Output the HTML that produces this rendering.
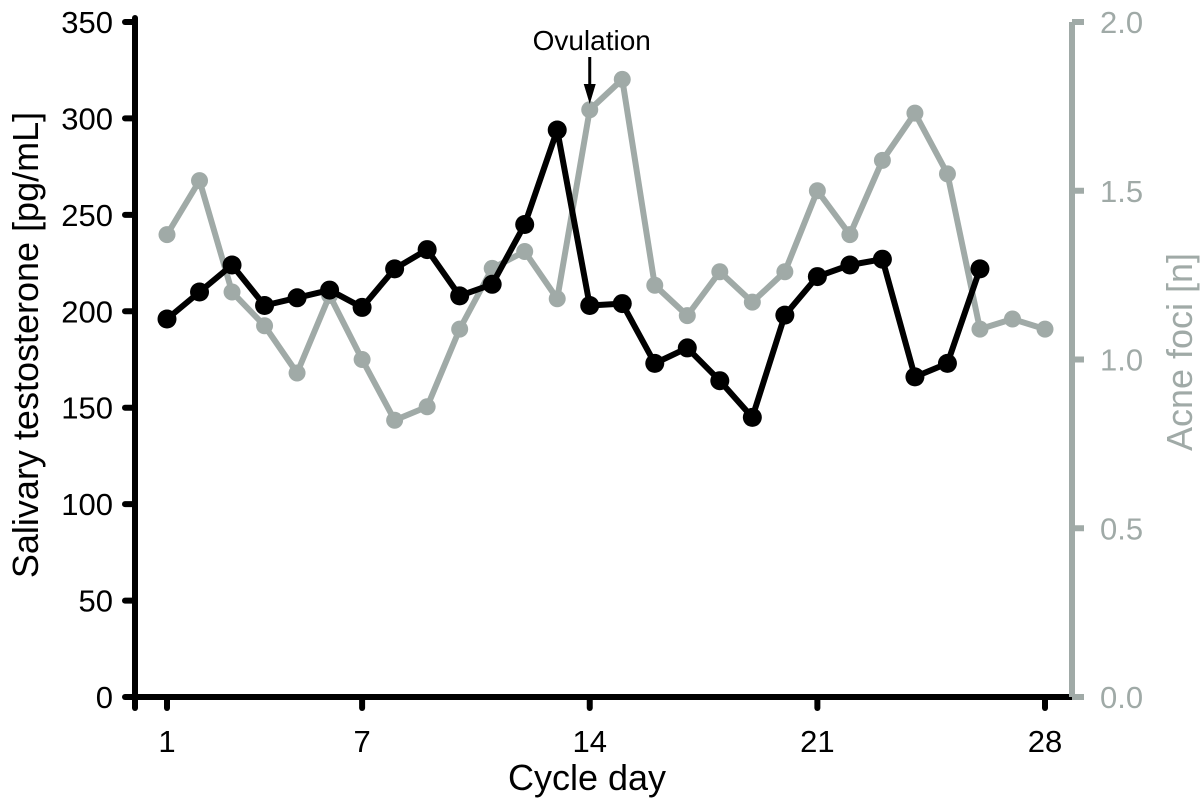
<!DOCTYPE html>
<html><head><meta charset="utf-8"><style>
body{margin:0;background:#fff}
svg text{font-family:"Liberation Sans",sans-serif}
</style></head><body>
<svg id="chart" width="1200" height="802" viewBox="0 0 1200 802" xmlns="http://www.w3.org/2000/svg"></svg>
<script>
const days = [1,2,3,4,5,6,7,8,9,10,11,12,13,14,15,16,17,18,19,20,21,22,23,24,25,26,27,28];
const testosterone = [196,210,224,203,207,211,202,222,232,208,214,245,294,203,204,173,181,164,145,198,218,224,227,166,173,222];
const acne = [1.37,1.53,1.2,1.1,0.96,1.19,1.0,0.82,0.86,1.09,1.27,1.32,1.18,1.74,1.83,1.22,1.13,1.26,1.17,1.26,1.5,1.37,1.59,1.73,1.55,1.09,1.12,1.09];
const leftTicks = [0,50,100,150,200,250,300,350];
const rightTicks = ["0.0","0.5","1.0","1.5","2.0"];
const xTicks = [1,7,14,21,28];
const ovulationDay = 14;

const NS="http://www.w3.org/2000/svg";
const svg=document.getElementById('chart');
const X0=135,Y0=697,YT=22,RX=1072;
const xs=d=>167+(d-1)*(1045-167)/27;
const yl=v=>Y0-v*(Y0-YT)/350;
const yr=v=>Y0-v*(Y0-YT)/2;
const GRAY="#a0aaa7";
function mk(tag,attrs,txt){const e=document.createElementNS(NS,tag);for(const k in attrs)e.setAttribute(k,attrs[k]);if(txt!==undefined)e.textContent=txt;svg.appendChild(e);return e;}

let e=mk('line',{x1:X0,y1:18,x2:X0,y2:708,stroke:'#000','stroke-width':6,'stroke-linecap':'round'});

leftTicks.forEach(v=>{
  let t=mk('line',{x1:X0-10,y1:yl(v),x2:X0,y2:yl(v),stroke:'#000','stroke-width':6,'stroke-linecap':'round'});
  
  let l=mk('text',{x:X0-22,y:yl(v)+11,'text-anchor':'end','font-size':31},v);
  
});
e=mk('line',{x1:X0,y1:Y0,x2:RX,y2:Y0,stroke:'#000','stroke-width':6});

xTicks.forEach(d=>{
  let t=mk('line',{x1:xs(d),y1:Y0,x2:xs(d),y2:708,stroke:'#000','stroke-width':6,'stroke-linecap':'round'});
  
  let l=mk('text',{x:xs(d),y:752,'text-anchor':'middle','font-size':31},d);
  
});
e=mk('line',{x1:RX,y1:YT,x2:RX,y2:Y0,stroke:GRAY,'stroke-width':6});

rightTicks.forEach(v=>{
  let t=mk('line',{x1:RX,y1:yr(+v),x2:RX+12,y2:yr(+v),stroke:GRAY,'stroke-width':6});
  
  let l=mk('text',{x:RX+28,y:yr(+v)+11,'font-size':31,fill:GRAY},v);
  
});
e=mk('text',{x:587,y:790,'text-anchor':'middle','font-size':36},'Cycle day');

e=mk('text',{x:0,y:0,'text-anchor':'middle','font-size':36,transform:'translate(38,345) rotate(-90)'},'Salivary testosterone [pg/mL]');

e=mk('text',{x:0,y:0,'text-anchor':'middle','font-size':36,fill:GRAY,transform:'translate(1192,352) rotate(-90)'},'Acne foci [n]');


let gp=acne.map((v,i)=>xs(days[i])+','+yr(v)).join(' ');
e=mk('polyline',{points:gp,fill:'none',stroke:GRAY,'stroke-width':6,'stroke-linejoin':'round'});

acne.forEach((v,i)=>{let c=mk('circle',{cx:xs(days[i]),cy:yr(v),r:8.5,fill:GRAY});
  });
let bp=testosterone.map((v,i)=>xs(days[i])+','+yl(v)).join(' ');
e=mk('polyline',{points:bp,fill:'none',stroke:'#000','stroke-width':6,'stroke-linejoin':'round'});

testosterone.forEach((v,i)=>{let c=mk('circle',{cx:xs(days[i]),cy:yl(v),r:9.5,fill:'#000'});
  });

const ox=xs(ovulationDay);
e=mk('text',{x:ox+2,y:50,'text-anchor':'middle','font-size':28},'Ovulation');

e=mk('line',{x1:ox,y1:57,x2:ox,y2:90,stroke:'#000','stroke-width':3});

e=mk('polygon',{points:`${ox-6},84 ${ox+6},84 ${ox},104`,fill:'#000'});

</script>
</body></html>
